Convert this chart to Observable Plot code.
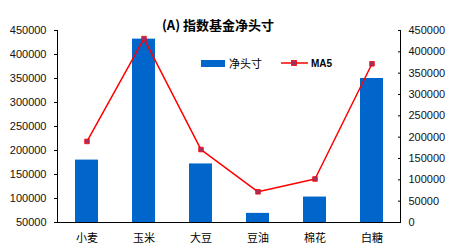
<!DOCTYPE html>
<html>
<head>
<meta charset="utf-8">
<script src="https://cdn.jsdelivr.net/npm/d3@7"></script>
<script src="https://cdn.jsdelivr.net/npm/@observablehq/plot@0.6"></script>
<style>
  html, body { margin: 0; padding: 0; background: #fff; }
  #wrap { position: relative; width: 450px; height: 250px; overflow: hidden; font-family: "Liberation Sans", Arial, sans-serif; }
  #title { position: absolute; left: 0; width: 436px; top: 16px; text-align: center; font: bold 13px "Noto Sans CJK SC", sans-serif; color: #000; line-height: 18px; }
  #legend { position: absolute; left: 201px; top: 56px; height: 14px; display: flex; align-items: center; font: 11px "Noto Sans CJK SC", sans-serif; color: #000; }
  .sw { width: 24px; height: 7px; background: #0066cc; margin-right: 4px; }
  .lab2 { font: bold 10px "Liberation Sans", Arial, sans-serif; margin-left: 2px; }
</style>
</head>
<body>
<div id="wrap">
  <div id="chart"></div>
  <div id="title">(A) 指数基金净头寸</div>
  <div id="legend">
    <div class="sw"></div><span>净头寸</span>
    <svg width="28" height="10" style="margin-left:19px"><line x1="0" y1="5" x2="27" y2="5" stroke="#ff0000" stroke-width="1.5"/><rect x="10.5" y="2.5" width="5" height="5" fill="#993366" stroke="#ff0000" stroke-width="0.8"/></svg>
    <span class="lab2">MA5</span>
  </div>
</div>
<script>
const categories = ["小麦", "玉米", "大豆", "豆油", "棉花", "白糖"];
const netPositions = [180000, 432000, 172000, 69000, 103000, 350000];
const ma5 = [190000, 431000, 171000, 72000, 102000, 372000];
const leftTicks = [50000, 100000, 150000, 200000, 250000, 300000, 350000, 400000, 450000];
const rightTicks = [0, 50000, 100000, 150000, 200000, 250000, 300000, 350000, 400000, 450000];

// right axis [0, 450000] mapped onto left scale [50000, 450000]
const toLeft = v => 50000 + v * 400000 / 450000;
const fromLeft = v => Math.round((v - 50000) * 450000 / 400000);

const data = categories.map((c, i) => ({category: c, net: netPositions[i], ma5: ma5[i]}));

const chart = Plot.plot({
  width: 450,
  height: 250,
  marginLeft: 57,
  marginRight: 50,
  marginTop: 30,
  marginBottom: 28,
  style: {background: "#fff", fontFamily: "'Liberation Sans', Arial, sans-serif", fontSize: "11px", color: "#000"},
  x: {domain: categories, paddingInner: 0.6, paddingOuter: 0.3, axis: null, label: null},
  y: {domain: [50000, 450000], axis: null, label: null},
  marks: [
    Plot.barY(data, {x: "category", y1: 50000, y2: "net", fill: "#0066cc"}),
    Plot.line(data, {x: "category", y: d => toLeft(d.ma5), stroke: "#ff0000", strokeWidth: 1.5}),
    Plot.dot(data, {x: "category", y: d => toLeft(d.ma5), symbol: "square", r: 2.6, fill: "#993366", stroke: "#ff0000", strokeWidth: 0.8}),
    Plot.frame({anchor: "left", stroke: "#000"}),
    Plot.frame({anchor: "right", stroke: "#000"}),
    Plot.frame({anchor: "bottom", stroke: "#000"}),
    Plot.axisY(leftTicks, {anchor: "left", label: null, tickSize: 3, tickPadding: 8, tickFormat: d => String(d), stroke: "#000", fill: "#111", fontSize: 11}),
    Plot.axisY(rightTicks.map(toLeft), {anchor: "right", label: null, tickSize: -3, tickPadding: 11, tickFormat: d => String(fromLeft(d)), stroke: "#000", fill: "#111", fontSize: 11}),
    Plot.axisX({anchor: "bottom", label: null, tickSize: 0, tickPadding: 12, fontFamily: "'Noto Sans CJK SC', sans-serif", fontSize: 11, fill: "#000"})
  ]
});
document.getElementById("chart").appendChild(chart);
</script>
</body>
</html>
